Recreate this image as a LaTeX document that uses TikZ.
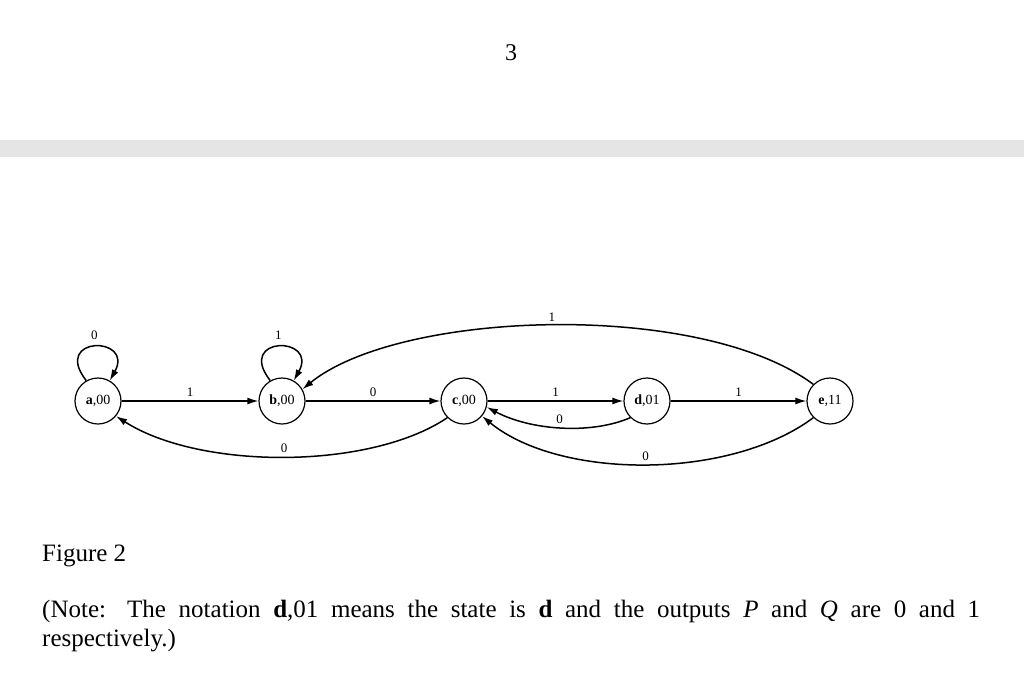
\documentclass[tikz,border=0pt]{standalone}
\usepackage{fontspec}
\setmainfont{Liberation Serif}
\usetikzlibrary{arrows.meta}
\begin{document}
\begin{tikzpicture}[x=1pt,y=-1pt,
  st/.style={draw,circle,line width=1.2pt,minimum size=46pt,inner sep=0pt,font=\fontsize{14}{15}\selectfont},
  ed/.style={line width=1.5pt,-{Latex[length=11pt,width=7pt]}},
  lb/.style={font=\fontsize{13}{14}\selectfont}]
\useasboundingbox (0,0) rectangle (1024,682);
\fill[black!10] (0,140) rectangle (1024,157);
\node[font=\fontsize{24}{28}\selectfont] (pg) at (511,53) {3};
\node[st] (a) at (98,401) {\textbf{a},00};
\node[st] (b) at (282,401) {\textbf{b},00};
\node[st] (c) at (464,401) {\textbf{c},00};
\node[st] (d) at (647,401) {\textbf{d},01};
\node[st] (e) at (830,401) {\textbf{e},11};
\draw[ed] (a.120) .. controls +(-35,-45) and +(25,-45) .. (a.60) node[lb,pos=0.5,above=3pt] {0};
\draw[ed] (b.120) .. controls +(-35,-45) and +(25,-45) .. (b.60) node[lb,pos=0.5,above=3pt] {1};
\draw[ed] (a) -- node[lb,above] {1} (b);
\draw[ed] (b) -- node[lb,above] {0} (c);
\draw[ed] (c) -- node[lb,above] {1} (d);
\draw[ed] (d) -- node[lb,above] {1} (e);
\draw[ed] (e.north west) .. controls (700,300) and (400,310) .. (b.30) node[lb,pos=0.5,above] {1};
\draw[ed] (c.south west) .. controls (370,470) and (200,470) .. (a.-40) node[lb,pos=0.5,above] {0};
\draw[ed] (d.south west) .. controls (590,435) and (530,430) .. (c.-15) node[lb,pos=0.5,above] {0};
\draw[ed] (e.south west) .. controls (730,480) and (560,480) .. (c.-40) node[lb,pos=0.5,above] {0};
\node[anchor=west,inner sep=0pt,font=\fontsize{25}{29}\selectfont] (fig) at (42,556) {Figure 2};
\node[anchor=north west,text width=938pt,align=justify,inner sep=0pt,font=\fontsize{25}{29}\selectfont] (note) at (42,600)
{(Note: The notation \textbf{d},01 means the state is \textbf{d} and the outputs \textit{P} and \textit{Q} are 0 and 1\linebreak respectively.)};
\end{tikzpicture}
\end{document}
